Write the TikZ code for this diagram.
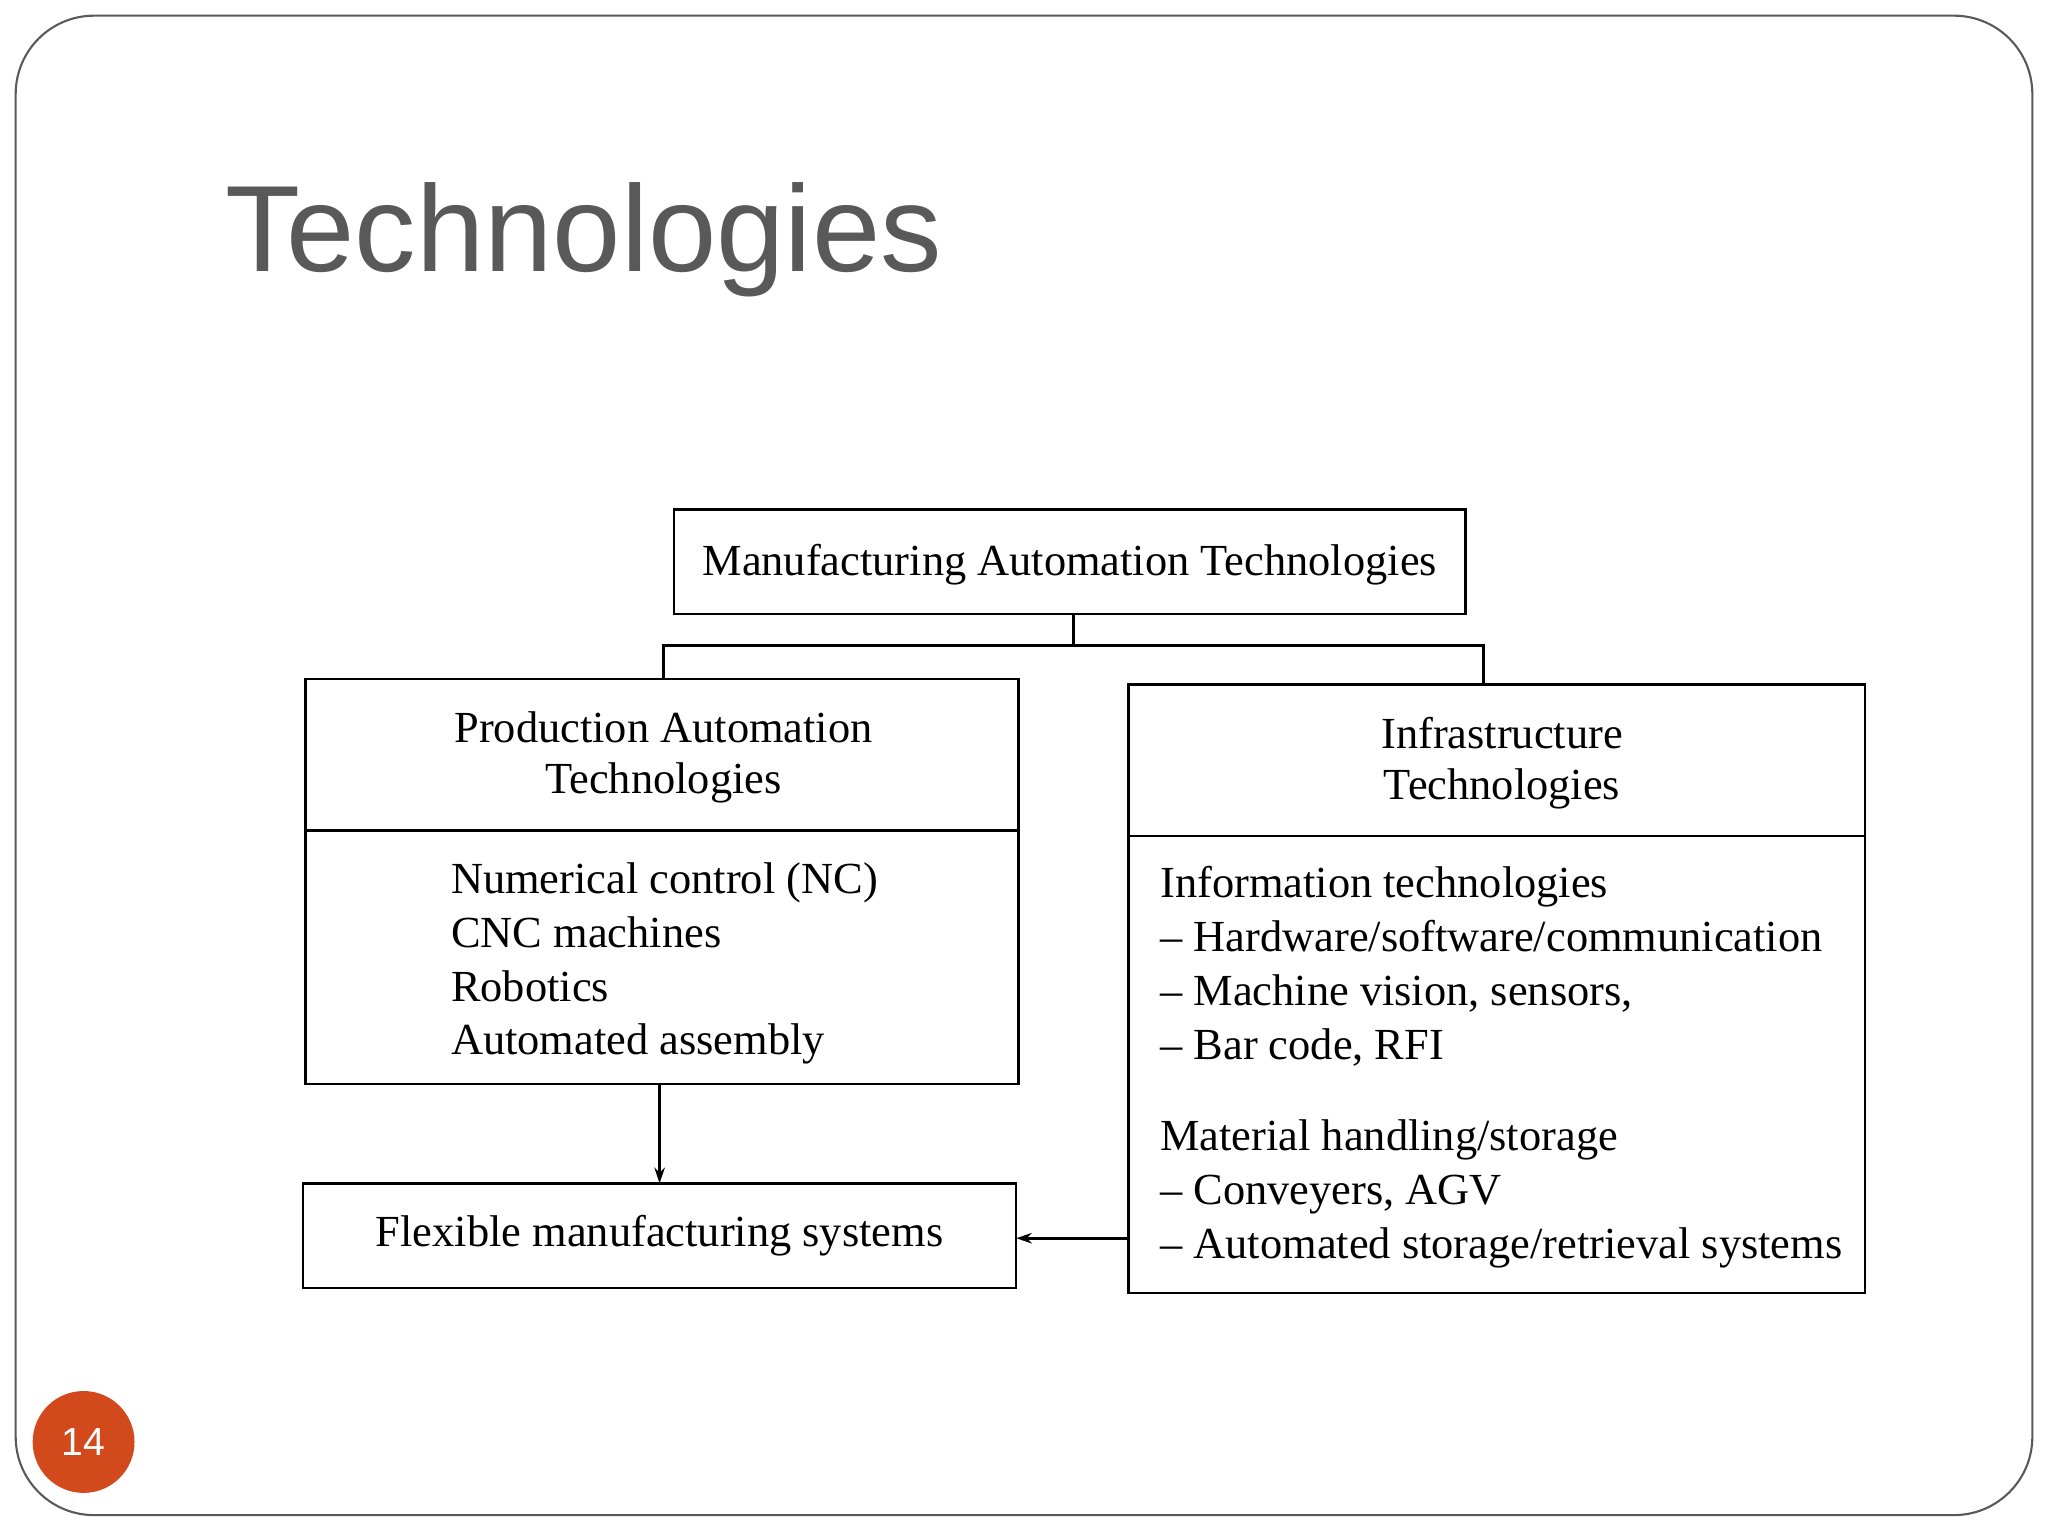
\documentclass[tikz,border=0pt]{standalone}
\usepackage{fontspec}
\setmainfont{Liberation Serif}
\newfontfamily\titlefont{Liberation Sans}
\usetikzlibrary{arrows.meta}
\definecolor{titlegray}{HTML}{595959}
\definecolor{badge}{HTML}{D24A1C}
\tikzset{
  box/.style={draw, line width=1pt},
  conn/.style={line width=1pt},
  arr/.style={line width=1pt,-{Stealth[length=6pt,width=4pt]}},
  txt/.style={font=\fontsize{17}{19.5}\selectfont, inner sep=0pt},
}
\begin{document}
\begin{tikzpicture}[x=0.5pt,y=-0.5pt]
\useasboundingbox (0,0) rectangle (1568,1176);
\draw[gray!70!black, line width=0.8pt, rounded corners=30pt] (12,12) rectangle (1556,1160);
\node[anchor=base west, inner sep=0pt, text=titlegray, font=\titlefont\fontsize{47}{50}\selectfont] (title) at (172,208) {Technologies};
% boxes
\draw[box] (516,390) rectangle (1122,470);
\node[txt] (mat) at (819,432) {Manufacturing Automation Technologies};
\draw[box] (234,520) rectangle (780,830);
\draw[conn] (234,636) -- (780,636);
\node[txt, align=center] (pat) at (508,580) {Production Automation\\Technologies};
\node[txt, align=left, anchor=north west, text depth=0pt] (patb) at (345,660) {Numerical control (NC)\\[1.1pt]CNC machines\\[1.1pt]Robotics\\[1.1pt]Automated assembly};
\draw[box] (864,524) rectangle (1428,990);
\draw[conn] (864,640) -- (1428,640);
\node[txt, align=center] (it) at (1150,584) {Infrastructure\\Technologies};
\node[txt, align=left, anchor=north west] (itb1) at (888,663) {Information technologies\\[1.1pt]-- Hardware/software/communication\\[1.1pt]-- Machine vision, sensors,\\[1.1pt]-- Bar code, RFI};
\node[txt, align=left, anchor=north west] (itb2) at (888,857) {Material handling/storage\\[1.1pt]-- Conveyers, AGV\\[1.1pt]-- Automated storage/retrieval systems};
\draw[box] (232,906) rectangle (778,986);
\node[txt] (fms) at (505,946) {Flexible manufacturing systems};
% connectors
\coordinate (j) at (822,494);
\draw[conn] (822,470) -- (j);
\draw[conn] (508,520) -- (508,494) -- (1136,494) -- (1136,524);
\draw[arr] (505,830) -- (505,906);
\draw[arr] (864,948) -- (778,948);
% badge
\node[circle, fill=badge, minimum size=39pt, inner sep=0pt, text=white, font=\titlefont\fontsize{15}{17}\selectfont] (pg) at (64,1104) {14};
\end{tikzpicture}
\end{document}
